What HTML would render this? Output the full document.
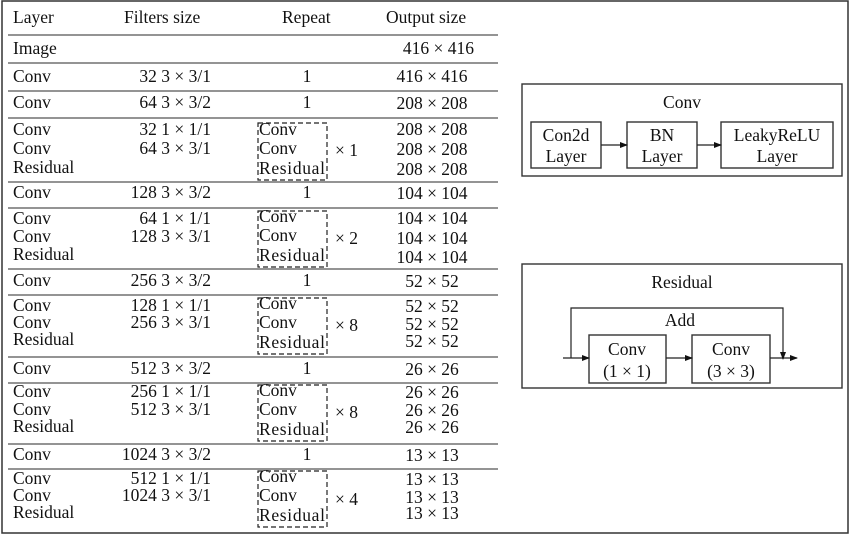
<!DOCTYPE html>
<html><head><style>
html,body{margin:0;padding:0;background:#fff;}
svg{display:block;}
text{font-family:"Liberation Serif",serif;font-size:17.5px;fill:#111;}
</style></head><body>
<svg width="850" height="537" viewBox="0 0 850 537" xmlns="http://www.w3.org/2000/svg">
<defs><marker id="a" markerWidth="8" markerHeight="8" refX="7" refY="4" orient="auto" markerUnits="userSpaceOnUse"><path d="M0,1 L8,4 L0,7 Z" fill="#111"/></marker></defs>
<rect x="2" y="1" width="846" height="532" fill="none" stroke="#333" stroke-width="1.5"/>
<g stroke="#555" stroke-width="1.3">
<line x1="8" y1="35" x2="498" y2="35"/><line x1="8" y1="63" x2="498" y2="63"/>
<line x1="8" y1="91" x2="498" y2="91"/><line x1="8" y1="118" x2="498" y2="118"/>
<line x1="8" y1="182" x2="498" y2="182"/><line x1="8" y1="208" x2="498" y2="208"/>
<line x1="8" y1="269" x2="498" y2="269"/><line x1="8" y1="295" x2="498" y2="295"/>
<line x1="8" y1="357" x2="498" y2="357"/><line x1="8" y1="383" x2="498" y2="383"/>
<line x1="8" y1="444" x2="498" y2="444"/><line x1="8" y1="469" x2="498" y2="469"/>
</g>
<text x="13" y="23">Layer</text><text x="124" y="23">Filters size</text><text x="282" y="23">Repeat</text><text x="386" y="23">Output size</text>
<text x="13" y="54">Image</text><text x="474" y="54" text-anchor="end">416 × 416</text>
<g text-anchor="end">
<text x="211" y="82">32 3 × 3/1</text><text x="211" y="108">64 3 × 3/2</text>
<text x="211" y="135">32 1 × 1/1</text><text x="211" y="154">64 3 × 3/1</text>
<text x="211" y="198">128 3 × 3/2</text>
<text x="211" y="224">64 1 × 1/1</text><text x="211" y="242">128 3 × 3/1</text>
<text x="211" y="286">256 3 × 3/2</text>
<text x="211" y="311">128 1 × 1/1</text><text x="211" y="328">256 3 × 3/1</text>
<text x="211" y="374">512 3 × 3/2</text>
<text x="211" y="397">256 1 × 1/1</text><text x="211" y="415">512 3 × 3/1</text>
<text x="211" y="460">1024 3 × 3/2</text>
<text x="211" y="484">512 1 × 1/1</text><text x="211" y="501">1024 3 × 3/1</text>
</g>
<text x="13" y="82">Conv</text><text x="13" y="108">Conv</text>
<text x="13" y="135">Conv</text><text x="13" y="154">Conv</text><text x="13" y="173">Residual</text>
<text x="13" y="198">Conv</text>
<text x="13" y="224">Conv</text><text x="13" y="242">Conv</text><text x="13" y="260">Residual</text>
<text x="13" y="286">Conv</text>
<text x="13" y="311">Conv</text><text x="13" y="328">Conv</text><text x="13" y="345">Residual</text>
<text x="13" y="374">Conv</text>
<text x="13" y="397">Conv</text><text x="13" y="415">Conv</text><text x="13" y="432">Residual</text>
<text x="13" y="460">Conv</text>
<text x="13" y="484">Conv</text><text x="13" y="501">Conv</text><text x="13" y="518">Residual</text>
<g text-anchor="middle">
<text x="307" y="82">1</text><text x="307" y="108">1</text><text x="307" y="198">1</text><text x="307" y="286">1</text><text x="307" y="374">1</text><text x="307" y="460">1</text>
<text x="432" y="82">416 × 416</text><text x="432" y="109">208 × 208</text>
<text x="432" y="135">208 × 208</text><text x="432" y="155">208 × 208</text><text x="432" y="175">208 × 208</text>
<text x="432" y="199">104 × 104</text>
<text x="432" y="224">104 × 104</text><text x="432" y="244">104 × 104</text><text x="432" y="263">104 × 104</text>
<text x="432" y="287">52 × 52</text>
<text x="432" y="312">52 × 52</text><text x="432" y="330">52 × 52</text><text x="432" y="347">52 × 52</text>
<text x="432" y="375">26 × 26</text>
<text x="432" y="398">26 × 26</text><text x="432" y="416">26 × 26</text><text x="432" y="433">26 × 26</text>
<text x="432" y="461">13 × 13</text>
<text x="432" y="485">13 × 13</text><text x="432" y="503">13 × 13</text><text x="432" y="519">13 × 13</text>
</g>
<g fill="none" stroke="#222" stroke-width="1.2" stroke-dasharray="5,3">
<rect x="258" y="123" width="69" height="57"/><rect x="258" y="211" width="69" height="56"/>
<rect x="258" y="298" width="69" height="56"/><rect x="258" y="385" width="69" height="56"/>
<rect x="258" y="471" width="69" height="56"/>
</g>
<g><text x="259" y="135">Conv</text><text x="259" y="154">Conv</text><text x="259" y="174" textLength="66">Residual</text>
<text x="259" y="222">Conv</text><text x="259" y="241">Conv</text><text x="259" y="261" textLength="66">Residual</text>
<text x="259" y="309">Conv</text><text x="259" y="328">Conv</text><text x="259" y="348" textLength="66">Residual</text>
<text x="259" y="396">Conv</text><text x="259" y="415">Conv</text><text x="259" y="435" textLength="66">Residual</text>
<text x="259" y="482">Conv</text><text x="259" y="501">Conv</text><text x="259" y="521" textLength="66">Residual</text>
<text x="335" y="156">× 1</text><text x="335" y="244">× 2</text><text x="335" y="331">× 8</text><text x="335" y="418">× 8</text><text x="335" y="505">× 4</text></g>
<g fill="none" stroke="#333" stroke-width="1.4">
<rect x="522" y="84" width="320" height="92"/>
<rect x="531" y="122" width="70" height="46"/><rect x="627" y="122" width="70" height="46"/><rect x="721" y="122" width="112" height="46"/>
<rect x="522" y="264" width="320" height="124"/>
<rect x="589" y="335" width="77" height="48"/><rect x="692" y="335" width="78" height="48"/>
</g>
<g stroke="#222" stroke-width="1.2" fill="none">
<line x1="601" y1="145" x2="627" y2="145" marker-end="url(#a)"/>
<line x1="697" y1="145" x2="721" y2="145" marker-end="url(#a)"/>
<line x1="563" y1="358" x2="589" y2="358" marker-end="url(#a)"/>
<line x1="666" y1="358" x2="692" y2="358" marker-end="url(#a)"/>
<line x1="770" y1="358" x2="797" y2="358" marker-end="url(#a)"/>
<polyline points="571,358 571,308 783,308 783,359" marker-end="url(#a)"/>
</g>
<g text-anchor="middle">
<text x="682" y="108">Conv</text>
<text x="566" y="141">Con2d</text><text x="566" y="162">Layer</text>
<text x="662" y="141">BN</text><text x="662" y="162">Layer</text>
<text x="777" y="141">LeakyReLU</text><text x="777" y="162">Layer</text>
<text x="682" y="288">Residual</text>
<text x="680" y="326">Add</text>
<text x="627" y="355">Conv</text><text x="627" y="377">(1 × 1)</text>
<text x="731" y="355">Conv</text><text x="731" y="377">(3 × 3)</text>
</g>
</svg>
</body></html>
